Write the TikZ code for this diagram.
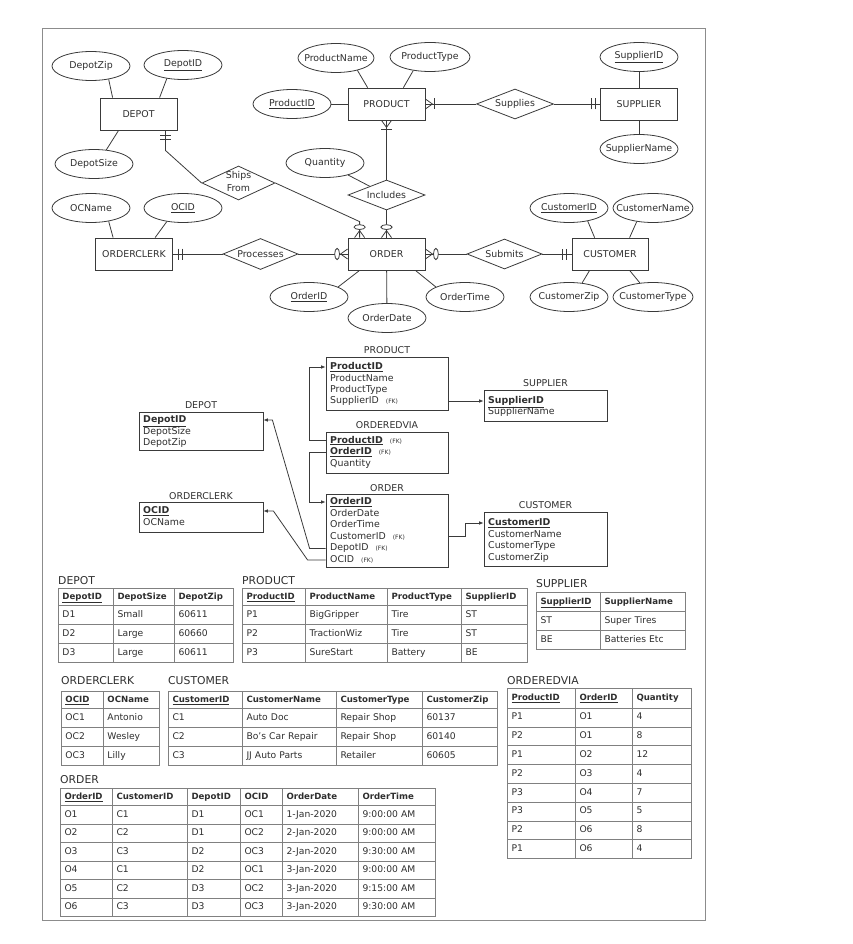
\documentclass[tikz,border=0pt]{standalone}
\usepackage{fontspec}
\setmainfont{DejaVu Sans}
\usetikzlibrary{shapes.geometric,arrows.meta,calc,matrix}
\definecolor{ink}{HTML}{2E2E2E}
\definecolor{lne}{HTML}{3A3A3A}
\definecolor{tbl}{HTML}{808080}
\definecolor{frm}{HTML}{8C8C8C}
\newcommand\myerf{\fontsize{9.4}{11}\selectfont}
\newcommand\mytbf{\fontsize{9.2}{11}\selectfont}
\newcommand\mytbh{\fontsize{8.6}{10}\selectfont\bfseries}
\newcommand\mytit{\fontsize{10.8}{12}\selectfont}
\newcommand\myfk{\fontsize{6}{7}\selectfont}
\newcommand\zb[1]{\makebox[0pt]{#1}}
\tikzset{
  conn/.style={draw=lne, line width=0.8pt},
  ent/.style={draw=lne, line width=0.8pt, rectangle, minimum width=77pt, minimum height=32pt, inner sep=0pt, text=ink, font=\myerf},
  attr/.style={draw=lne, line width=0.8pt, ellipse, minimum width=78pt, minimum height=29pt, inner sep=0pt, text=ink, font=\myerf},
  rel/.style={draw=lne, line width=0.8pt, diamond, minimum width=76pt, minimum height=30pt, inner sep=0pt, text=ink, font=\myerf},
  zmany/.pic={\draw[conn] (0,-5) -- (7,0) -- (0,5);
              \draw[conn, fill=white] (10.5,0) ellipse [x radius=2.4, y radius=5.6];},
  omany/.pic={\draw[conn] (0,-5) -- (7,0) -- (0,5);
              \draw[conn] (9,-5.5) -- (9,5.5);},
  oone/.pic={\draw[conn] (5,-5.5) -- (5,5.5) (9,-5.5) -- (9,5.5);},
  sbox/.style={draw=lne, line width=0.8pt, rectangle, inner sep=0pt},
  stitle/.style={inner sep=0pt, text=ink, font=\myerf},
  srow/.style={anchor=west, inner sep=0pt, text=ink, font=\myerf, text height=7pt, text depth=2pt},
  fkarrow/.style={draw=lne, line width=0.8pt, -{Latex[length=4.5pt,width=3.6pt]}},
  tcell/.style={draw=tbl, line width=0.6pt, rectangle, inner xsep=4pt, inner ysep=0pt, align=left,
                text=ink, font=\mytbf, text height=7pt, text depth=2pt, minimum height=19pt},
  hdr/.style={font=\mytbh},
  dtab/.style={matrix of nodes, inner sep=0pt, column sep=-0.6pt, row sep=-0.6pt,
               nodes={tcell}, row 1/.style={nodes={hdr}}, anchor=north west},
  ttitle/.style={anchor=base west, inner sep=0pt, text=ink, font=\mytit}
}
\begin{document}
\begin{tikzpicture}[x=1pt,y=-1pt]
\useasboundingbox (0,0) rectangle (852,944);
\draw[frm, line width=1pt] (42,29) rectangle (705,920);

% ---------------- ER diagram ----------------
\node[ent] (depot) at (138.5,114) {DEPOT};
\node[attr] (depotzip) at (91,66) {\zb{DepotZip}};
\node[attr] (depotid) at (183,65) {\zb{\underline{DepotID}}};
\node[attr] (depotsize) at (94,164) {\zb{DepotSize}};

\node[ent] (product) at (386.5,104) {PRODUCT};
\node[attr] (productid) at (292,104) {\zb{\underline{ProductID}}};
\node[attr, minimum width=76pt] (productname) at (336,58) {\zb{ProductName}};
\node[attr, minimum width=80pt] (producttype) at (430,57) {\zb{ProductType}};

\node[ent] (supplier) at (639,104) {SUPPLIER};
\node[attr] (supplierid) at (639,57) {\zb{\underline{SupplierID}}};
\node[attr] (suppliername) at (639,149) {\zb{SupplierName}};
\node[rel, minimum width=77pt] (supplies) at (515,104) {\zb{Supplies}};

\node[rel, minimum width=77pt] (includes) at (386.5,195) {\zb{Includes}};
\node[attr] (quantity) at (325,163) {\zb{Quantity}};
\node[rel, minimum width=73pt, minimum height=34pt] (ships) at (238.5,183)
  {\zb{\begin{tabular}{@{}c@{}}Ships\\[2pt]From\end{tabular}}};

\node[ent] (orderclerk) at (134,254) {ORDERCLERK};
\node[attr] (ocname) at (91,208) {\zb{OCName}};
\node[attr] (ocid) at (183,208) {\zb{\underline{OCID}}};
\node[rel, minimum width=75pt, minimum height=31pt] (processes) at (260.5,254) {\zb{Processes}};

\node[ent] (order) at (386.5,254) {ORDER};
\node[attr] (orderid) at (309,297) {\zb{\underline{OrderID}}};
\node[attr] (orderdate) at (387,318) {\zb{OrderDate}};
\node[attr] (ordertime) at (465,297) {\zb{OrderTime}};
\node[rel, minimum width=75pt] (submits) at (504.5,254) {\zb{Submits}};

\node[ent, minimum width=76pt] (customer) at (610,254) {CUSTOMER};
\node[attr] (customerid) at (569,208) {\zb{\underline{CustomerID}}};
\node[attr, minimum width=80pt] (customername) at (653,208) {\zb{CustomerName}};
\node[attr] (customerzip) at (569,297) {\zb{CustomerZip}};
\node[attr, minimum width=80pt] (customertype) at (653,297) {\zb{CustomerType}};

\draw[conn] (depotzip.-37) -- ($(depot.north west)+(13,0)$);
\draw[conn] (depotid.220) -- ($(depot.north west)+(60,0)$);
\draw[conn] (depotsize.49) -- ($(depot.south west)+(19,0)$);
\draw[conn] (productname.-30) -- ($(product.north west)+(20,0)$);
\draw[conn] (producttype.219) -- ($(product.north east)+(-22,0)$);
\draw[conn] (productid) -- (product);
\draw[conn] (supplierid) -- (supplier);
\draw[conn] (suppliername) -- (supplier);
\draw[conn] (product) -- (supplies);
\draw[conn] (supplies) -- (supplier);
\draw[conn] (product) -- (includes);
\draw[conn] (includes) -- (order);
\draw[conn] (quantity) -- (includes);
\draw[conn] ($(depot.south east)+(-12,0)$) -- ++(0,20) -- (ships.west);
\draw[conn] (ships.east) -- ($(order.north west)+(12,-16)$) -- ($(order.north west)+(12,0)$);
\draw[conn] (ocname.-37) -- ($(orderclerk.north west)+(18,0)$);
\draw[conn] (ocid.220) -- ($(orderclerk.north west)+(60,0)$);
\draw[conn] (orderclerk) -- (processes);
\draw[conn] (processes) -- (order);
\draw[conn] (orderid.19) -- ($(order.south west)+(12,0)$);
\draw[conn] (orderdate) -- (order);
\draw[conn] (ordertime.161) -- ($(order.south east)+(-10,0)$);
\draw[conn] (order) -- (submits);
\draw[conn] (submits) -- (customer);
\draw[conn] (customerid.-35) -- ($(customer.north west)+(23,0)$);
\draw[conn] (customername.220) -- ($(customer.north west)+(58,0)$);
\draw[conn] (customerzip.47) -- ($(customer.south west)+(18,0)$);
\draw[conn] (customertype.133) -- ($(customer.south west)+(58,0)$);

\pic at (product.east) {omany};
\pic[rotate=-90] at (product.south) {omany};
\pic[rotate=180] at (supplier.west) {oone};
\pic[rotate=-90] at ($(depot.south east)+(-12,0)$) {oone};
\pic at (orderclerk.east) {oone};
\pic[rotate=180] at (customer.west) {oone};
\pic[rotate=90] at ($(order.north west)+(12,0)$) {zmany};
\pic[rotate=90] at (order.north) {zmany};
\pic[rotate=180] at (order.west) {zmany};
\pic at (order.east) {zmany};

% ---------------- Relational schema ----------------
\node[sbox, minimum width=122pt, minimum height=53pt] (sprod) at (387,383.5) {};
\node[stitle] (sprodt) at (387,350) {PRODUCT};
\node[srow] (sp1) at (330,367) {\textbf{\underline{ProductID}}};
\node[srow] (sp2) at (330,378.5) {ProductName};
\node[srow] (sp3) at (330,390) {ProductType};
\node[srow] (sp4) at (330,401) {SupplierID\hspace{7pt}{\myfk(FK)}};

\node[sbox, minimum width=123pt, minimum height=31pt] (ssup) at (545.5,405.5) {};
\node[stitle] (ssupt) at (545.5,383) {SUPPLIER};
\node[srow] (ss1) at (488,401) {\textbf{\underline{SupplierID}}};
\node[srow] (ss2) at (488,412) {SupplierName};

\node[sbox, minimum width=122pt, minimum height=41pt] (svia) at (387,452.5) {};
\node[stitle] (sviat) at (387,425) {ORDEREDVIA};
\node[srow] (sv1) at (330,440.5) {\textbf{\underline{ProductID}}\hspace{7pt}{\myfk(FK)}};
\node[srow] (sv2) at (330,452) {\textbf{\underline{OrderID}}\hspace{7pt}{\myfk(FK)}};
\node[srow] (sv3) at (330,463.5) {Quantity};

\node[sbox, minimum width=122pt, minimum height=73pt] (sord) at (387,530.5) {};
\node[stitle] (sordt) at (387,488) {ORDER};
\node[srow] (so1) at (330,502) {\textbf{\underline{OrderID}}};
\node[srow] (so2) at (330,513.6) {OrderDate};
\node[srow] (so3) at (330,525.2) {OrderTime};
\node[srow] (so4) at (330,536.8) {CustomerID\hspace{7pt}{\myfk(FK)}};
\node[srow] (so5) at (330,548.4) {DepotID\hspace{7pt}{\myfk(FK)}};
\node[srow] (so6) at (330,560) {OCID\hspace{7pt}{\myfk(FK)}};

\node[sbox, minimum width=123pt, minimum height=54pt] (scust) at (545.5,539) {};
\node[stitle] (scustt) at (545.5,505) {CUSTOMER};
\node[srow] (sc1) at (488,523) {\textbf{\underline{CustomerID}}};
\node[srow] (sc2) at (488,534.5) {CustomerName};
\node[srow] (sc3) at (488,546) {CustomerType};
\node[srow] (sc4) at (488,557.5) {CustomerZip};

\node[sbox, minimum width=124pt, minimum height=38pt] (sdep) at (201,431) {};
\node[stitle] (sdept) at (201,405) {DEPOT};
\node[srow] (sd1) at (143,420) {\textbf{\underline{DepotID}}};
\node[srow] (sd2) at (143,431.5) {DepotSize};
\node[srow] (sd3) at (143,443) {DepotZip};

\node[sbox, minimum width=124pt, minimum height=30pt] (socl) at (201,517) {};
\node[stitle] (soclt) at (201,496) {ORDERCLERK};
\node[srow] (sk1) at (143,511) {\textbf{\underline{OCID}}};
\node[srow] (sk2) at (143,523) {OCName};

\draw[fkarrow] (sv1.west -| svia.west) -- ++(-16,0) |- (sp1.west -| sprod.west);
\draw[fkarrow] (sv2.west -| svia.west) -- ++(-16,0) |- (so1.west -| sord.west);
\draw[fkarrow] (sp4.east -| sprod.east) -- (ss1.west -| ssup.west);
\draw[fkarrow] (so4.east -| sord.east) -- ++(17,0) |- (sc1.west -| scust.west);
\draw[fkarrow] (so5.west -| sord.west) -- ++(-16,0) -- ($(sd1.east -| sdep.east)+(9,0)$) -- (sd1.east -| sdep.east);
\draw[fkarrow] (so6.west -| sord.west) -- ++(-18,0) -- ($(sk1.east -| socl.east)+(10,0)$) -- (sk1.east -| socl.east);

% ---------------- Data tables ----------------
\node[ttitle] (tdept) at (58,584) {DEPOT};
\matrix[dtab, row 1/.style={nodes={hdr, minimum height=17pt}},
  column 1/.style={nodes={text width=47pt}}, column 2/.style={nodes={text width=53pt}},
  column 3/.style={nodes={text width=51pt}}] (tdep) at (58,588) {
\underline{DepotID} & DepotSize & DepotZip \\
D1 & Small & 60611 \\
D2 & Large & 60660 \\
D3 & Large & 60611 \\
};

\node[ttitle] (tprodt) at (242,584) {PRODUCT};
\matrix[dtab, row 1/.style={nodes={hdr, minimum height=17pt}},
  column 1/.style={nodes={text width=55pt}}, column 2/.style={nodes={text width=74pt}},
  column 3/.style={nodes={text width=66pt}}, column 4/.style={nodes={text width=58pt}}] (tprod) at (242,588) {
\underline{ProductID} & ProductName & ProductType & SupplierID \\
P1 & BigGripper & Tire & ST \\
P2 & TractionWiz & Tire & ST \\
P3 & SureStart & Battery & BE \\
};

\node[ttitle] (tsupt) at (536,587) {SUPPLIER};
\matrix[dtab, row 1/.style={nodes={hdr, minimum height=18.5pt}},
  column 1/.style={nodes={text width=56pt}}, column 2/.style={nodes={text width=77pt}}] (tsup) at (536,592) {
\underline{SupplierID} & SupplierName \\
ST & Super Tires \\
BE & Batteries Etc \\
};

\node[ttitle] (toclt) at (61,684) {ORDERCLERK};
\matrix[dtab, row 1/.style={nodes={hdr, minimum height=17pt}},
  column 1/.style={nodes={text width=34pt}}, column 2/.style={nodes={text width=48pt}}] (tocl) at (61,691) {
\underline{OCID} & OCName \\
OC1 & Antonio \\
OC2 & Wesley \\
OC3 & Lilly \\
};

\node[ttitle] (tcust) at (168,684) {CUSTOMER};
\matrix[dtab, row 1/.style={nodes={hdr, minimum height=17pt}},
  column 1/.style={nodes={text width=66pt}}, column 2/.style={nodes={text width=86pt}},
  column 3/.style={nodes={text width=78pt}}, column 4/.style={nodes={text width=67pt}}] (tcus) at (168,691) {
\underline{CustomerID} & CustomerName & CustomerType & CustomerZip \\
C1 & Auto Doc & Repair Shop & 60137 \\
C2 & Bo's Car Repair & Repair Shop & 60140 \\
C3 & JJ Auto Parts & Retailer & 60605 \\
};

\node[ttitle] (tviat) at (507,684) {ORDEREDVIA};
\matrix[dtab, nodes={minimum height=18.8pt}, row 1/.style={nodes={hdr, minimum height=19.5pt}},
  column 1/.style={nodes={text width=60pt}}, column 2/.style={nodes={text width=49pt}},
  column 3/.style={nodes={text width=51pt}}] (tvia) at (507,688) {
\underline{ProductID} & \underline{OrderID} & Quantity \\
P1 & O1 & 4 \\
P2 & O1 & 8 \\
P1 & O2 & 12 \\
P2 & O3 & 4 \\
P3 & O4 & 7 \\
P3 & O5 & 5 \\
P2 & O6 & 8 \\
P1 & O6 & 4 \\
};

\node[ttitle] (tordt) at (60,783) {ORDER};
\matrix[dtab, nodes={minimum height=18.5pt}, row 1/.style={nodes={hdr, minimum height=17pt}},
  column 1/.style={nodes={text width=44pt}}, column 2/.style={nodes={text width=67pt}},
  column 3/.style={nodes={text width=45pt}}, column 4/.style={nodes={text width=34pt}},
  column 5/.style={nodes={text width=68pt}}, column 6/.style={nodes={text width=69pt}}] (tord) at (60,788) {
\underline{OrderID} & CustomerID & DepotID & OCID & OrderDate & OrderTime \\
O1 & C1 & D1 & OC1 & 1-Jan-2020 & 9:00:00 AM \\
O2 & C2 & D1 & OC2 & 2-Jan-2020 & 9:00:00 AM \\
O3 & C3 & D2 & OC3 & 2-Jan-2020 & 9:30:00 AM \\
O4 & C1 & D2 & OC1 & 3-Jan-2020 & 9:00:00 AM \\
O5 & C2 & D3 & OC2 & 3-Jan-2020 & 9:15:00 AM \\
O6 & C3 & D3 & OC3 & 3-Jan-2020 & 9:30:00 AM \\
};
\end{tikzpicture}
\end{document}
